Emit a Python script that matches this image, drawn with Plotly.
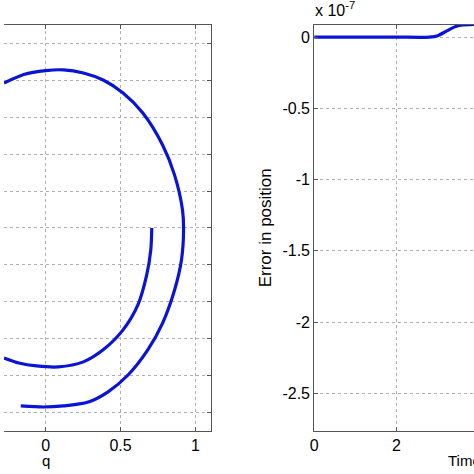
import plotly.graph_objects as go

# phase portrait (q, p), p in scaled units
outer_q = [-0.278, -0.146, 0.0, 0.119, 0.252, 0.384, 0.517, 0.649, 0.781, 0.861, 0.914, 0.921,
           0.907, 0.861, 0.781, 0.682, 0.55, 0.417, 0.285, 0.119, -0.013, -0.166]
outer_p = [0.784, 0.83, 0.851, 0.855, 0.838, 0.8, 0.73, 0.622, 0.449, 0.286, 0.097, -0.011,
           -0.173, -0.335, -0.514, -0.659, -0.795, -0.886, -0.941, -0.962, -0.968, -0.962]
inner_q = [0.709, 0.702, 0.675, 0.616, 0.517, 0.384, 0.252, 0.086, -0.06, -0.179, -0.278]
inner_p = [0.0, -0.119, -0.254, -0.416, -0.551, -0.659, -0.724, -0.751, -0.746, -0.73, -0.703]

# error in position (x 1e-7) vs time
time = [0, 1.0, 2.0, 2.8, 3.0, 3.2, 3.4, 3.6, 3.9]
err = [0, 0, 0, 0, 0.01, 0.04, 0.07, 0.085, 0.09]

blue = "#0a14d8"
font = dict(family="Liberation Sans, Arial", size=16, color="black")
grid = dict(showgrid=True, gridcolor="#b0b0b0", griddash="dot", gridwidth=1,
            showline=True, linecolor="#555", linewidth=1, ticks="inside",
            ticklen=4, tickcolor="#555", zeroline=False, tickfont=font)
line = dict(color=blue, width=3.2, shape="spline", smoothing=0.8)

fig = go.Figure()
fig.add_trace(go.Scatter(x=outer_q, y=outer_p, mode="lines", line=line, xaxis="x", yaxis="y"))
fig.add_trace(go.Scatter(x=inner_q, y=inner_p, mode="lines", line=line, xaxis="x", yaxis="y"))
fig.add_trace(go.Scatter(x=time, y=err, mode="lines", line=line, xaxis="x2", yaxis="y2"))

fig.update_layout(
    width=474, height=474, margin=dict(l=0, r=0, t=0, b=0),
    paper_bgcolor="white", plot_bgcolor="white", showlegend=False,
    xaxis=dict(domain=[0, 0.441], range=[-0.278, 1.106], tickvals=[0, 0.5, 1],
               ticktext=["0", "0.5", "1"], mirror="ticks", anchor="y", **grid),
    yaxis=dict(domain=[0.091, 0.947], range=[-1.097, 1.097], dtick=0.2, tick0=0,
               side="right", showticklabels=False, anchor="x", **grid),
    xaxis2=dict(domain=[0.660, 1.0], range=[0, 3.88], tickvals=[0, 2],
                mirror="ticks", anchor="y2", **grid),
    yaxis2=dict(domain=[0.091, 0.947], range=[-2.763, 0.084],
                tickvals=[0, -0.5, -1, -1.5, -2, -2.5],
                ticktext=["0", "-0.5", "-1", "-1.5", "-2", "-2.5"], anchor="x2", **grid),
    annotations=[
        dict(text="q", x=0, xref="x", y=1 - 460 / 474, yref="paper", showarrow=False,
             font=dict(font, size=15), yanchor="middle"),
        dict(text="Time", x=446 / 474, xref="paper", y=1 - 460 / 474, yref="paper",
             showarrow=False, font=dict(font, size=15), xanchor="left", yanchor="middle"),
        dict(text="Error in position", x=264 / 474, xref="paper", y=0.52, yref="paper",
             textangle=-90, showarrow=False, font=dict(font, size=17)),
        dict(text="x 10<sup>-7</sup>", x=312 / 474, xref="paper", y=0.955, yref="paper",
             showarrow=False, font=font, xanchor="left", yanchor="bottom"),
    ],
)

fig.write_html("out.html", config={"displayModeBar": False},
               post_script="document.body.style.margin='0';")
